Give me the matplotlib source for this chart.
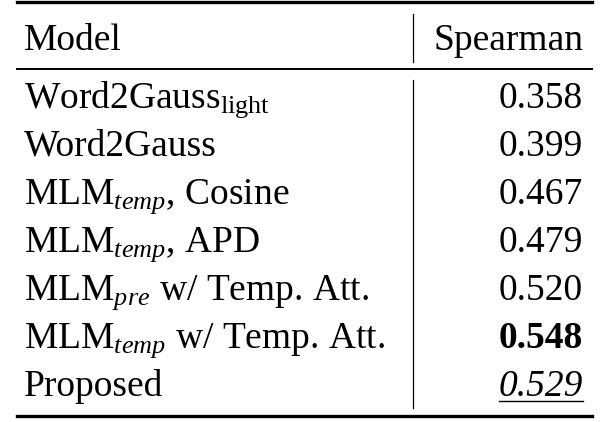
import matplotlib
matplotlib.use("Agg")
import matplotlib.pyplot as plt

plt.rcParams['font.family'] = ['Liberation Serif', 'DejaVu Serif']
plt.rcParams['mathtext.fontset'] = 'custom'
plt.rcParams['mathtext.rm'] = 'Liberation Serif'
plt.rcParams['mathtext.it'] = 'Liberation Serif:italic'
plt.rcParams['mathtext.bf'] = 'Liberation Serif:bold'

headers = ['Model', 'Spearman']
models = [r'Word2Gauss$_{\mathrm{light}}$', 'Word2Gauss', r'MLM$_{temp}$, Cosine',
          r'MLM$_{temp}$, APD', r'MLM$_{pre}$ w/ Temp. Att.',
          r'MLM$_{temp}$ w/ Temp. Att.', 'Proposed']
scores = ['0.358', '0.399', '0.467', '0.479', '0.520', '0.548', '0.529']
best = 5
second = 6

W, H = 607, 422
fig = plt.figure(figsize=(W / 100, H / 100), dpi=100)
ax = fig.add_axes([0, 0, 1, 1])
ax.set_xlim(0, W)
ax.set_ylim(H, 0)
ax.axis('off')

fs = 27
xl, xr, xsep = 24, 583, 413
ax.text(xl, 50, headers[0], fontsize=fs, va='baseline', ha='left')
ax.text(xr, 50, headers[1], fontsize=fs, va='baseline', ha='right')

for i, (m, s) in enumerate(zip(models, scores)):
    yb = 108 + i * 48
    ax.text(xl, yb, m, fontsize=fs, va='baseline', ha='left')
    kw = {}
    if i == best:
        kw['fontweight'] = 'bold'
    if i == second:
        kw['fontstyle'] = 'italic'
    t = ax.text(xr, yb, s, fontsize=fs, va='baseline', ha='right', **kw)
    if i == second:
        fig.canvas.draw()
        bb = t.get_window_extent().transformed(ax.transData.inverted())
        ax.plot([min(bb.x0, bb.x1), max(bb.x0, bb.x1)], [yb + 5, yb + 5],
                color='black', lw=1.0)

# rules
ax.plot([17, 592], [1.5, 1.5], color='black', lw=2.4)
ax.plot([17, 592], [69, 69], color='black', lw=1.4)
ax.plot([17, 592], [416, 416], color='black', lw=2.4)
ax.plot([xsep, xsep], [14, 62], color='black', lw=0.9)
ax.plot([xsep, xsep], [80, 408], color='black', lw=0.9)

fig.savefig('out.png', dpi=100)
